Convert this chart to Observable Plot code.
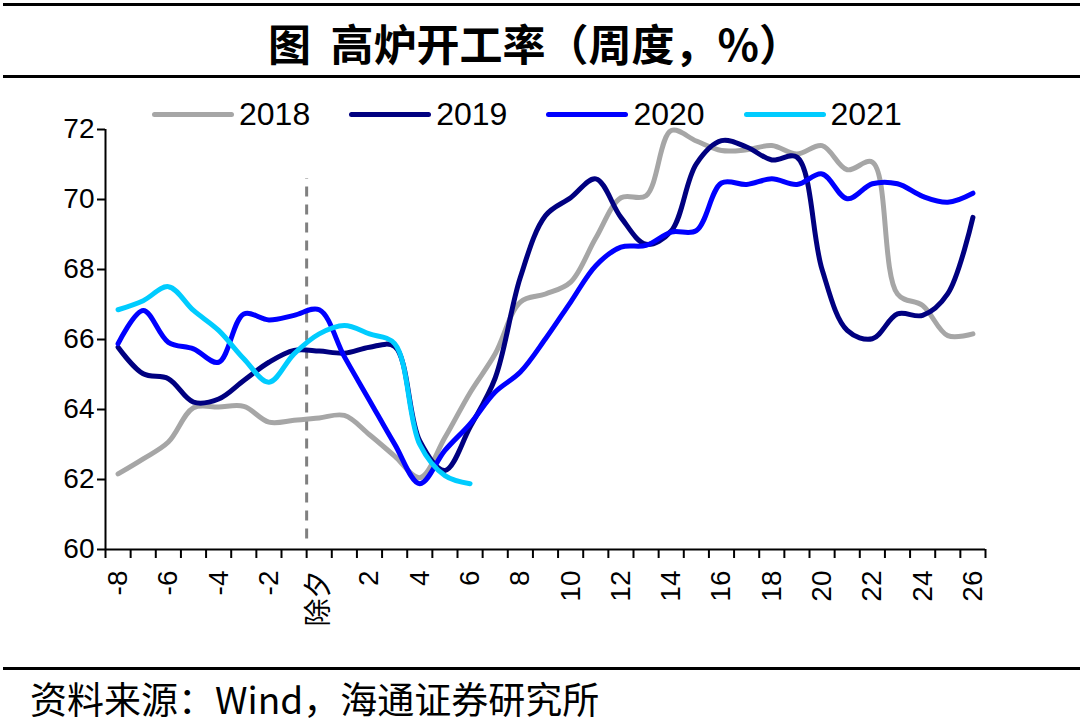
<!DOCTYPE html>
<html>
<head>
<meta charset="utf-8">
<script src="https://cdn.jsdelivr.net/npm/d3@7"></script>
<script src="https://cdn.jsdelivr.net/npm/@observablehq/plot@0.6"></script>
<style>
  html, body { margin: 0; padding: 0; background: #fff; }
  #wrap { position: relative; width: 1080px; height: 727px; overflow: hidden; background: #fff;
          font-family: "Liberation Sans", "Noto Sans CJK SC", sans-serif; color: #000; }
  .rule { position: absolute; left: 3px; right: 0; height: 3px; background: #000; }
  #title { position: absolute; top: 15px; left: 0; width: 1070px; text-align: center;
           font-family: "Noto Sans CJK SC", sans-serif; font-weight: 700; font-size: 43px; line-height: 54px; white-space: pre; }
  #caption { position: absolute; top: 676px; left: 30px; font-family: "Noto Sans CJK SC", "Liberation Sans", sans-serif;
             font-size: 37px; line-height: 44px; white-space: nowrap; }
  #chart { position: absolute; top: 85px; left: 0; }
  #legend { position: absolute; top: 94px; left: 152px; height: 40px; display: flex; align-items: center; }
  .item { display: flex; align-items: center; margin-right: 39px; }
  .swatch { width: 82px; height: 5px; border-radius: 3px; margin-right: 5px; }
  .label { font-family: "Liberation Sans", sans-serif; font-size: 32px; line-height: 40px; }
</style>
</head>
<body>
<div id="wrap">
  <div class="rule" style="top:3px"></div>
  <div id="title"></div>
  <div class="rule" style="top:75px"></div>
  <div id="chart"></div>
  <div id="legend"></div>
  <div class="rule" style="top:667px"></div>
  <div id="caption"></div>
</div>
<script>
// ---- data ----
const titleText = "图  高炉开工率（周度，%）";
const captionText = "资料来源：Wind，海通证券研究所";
const eveLabel = "除夕";

const weeks = [-8,-7,-6,-5,-4,-3,-2,-1,0,1,2,3,4,5,6,7,8,9,10,11,12,13,14,15,16,17,18,19,20,21,22,23,24,25,26];

const years = ["2018", "2019", "2020", "2021"];
const colors = ["#A6A6A6", "#000080", "#0000FF", "#00CCFF"];

const s2018 = [62.16,62.59,63.07,64.05,64.07,64.09,63.64,63.69,63.76,63.83,63.28,62.67,62.05,63.2,64.48,65.59,67.07,67.3,67.64,68.9,70.05,70.11,71.97,71.67,71.4,71.42,71.54,71.3,71.54,70.85,71.07,67.3,66.97,66.11,66.16];
const s2019 = [65.78,65.02,64.88,64.21,64.3,64.83,65.35,65.69,65.67,65.61,65.78,65.8,63.1,62.26,63.5,64.9,67.78,69.54,70.05,70.59,69.49,68.72,69.1,71.02,71.68,71.5,71.13,71.21,68.0,66.26,66.02,66.73,66.69,67.31,69.49];
const s2020 = [65.88,66.83,65.92,65.73,65.35,66.73,66.56,66.69,66.85,65.51,64.26,63.01,61.88,62.83,63.59,64.5,65.07,66.02,67.07,68.11,68.64,68.69,69.07,69.11,70.47,70.43,70.59,70.43,70.73,70.02,70.45,70.45,70.09,69.92,70.18];
const s2021 = [66.85,67.11,67.51,66.83,66.26,65.45,64.78,65.59,66.16,66.4,66.16,65.88,63.0,62.11,61.88];

const yTicks = [60, 62, 64, 66, 68, 70, 72];
const xLabelWeeks = [-8,-6,-4,-2,0,2,4,6,8,10,12,14,16,18,20,22,24,26];
// Lunar New Year's Eve marker: between week -1 and week 0
const eveMarker = [{week: -0.5, from: 60.3, to: 70.6}];

// ---- build ----
const seriesValues = [s2018, s2019, s2020, s2021];
const tables = seriesValues.map((vals, i) => vals.map((v, j) => ({week: weeks[j], value: v, year: years[i]})));
const boundaries = [weeks[0] - 0.5, ...weeks.map(w => w + 0.5)];
const xDomain = [boundaries[0], boundaries[boundaries.length - 1]];
const yDomain = [yTicks[0], yTicks[yTicks.length - 1]];

document.getElementById("title").textContent = titleText;
document.getElementById("caption").textContent = captionText;

const legend = document.getElementById("legend");
years.forEach((y, i) => {
  const item = document.createElement("div");
  item.className = "item";
  const sw = document.createElement("span");
  sw.className = "swatch";
  sw.style.background = colors[i];
  const lb = document.createElement("span");
  lb.className = "label";
  lb.textContent = y;
  item.appendChild(sw);
  item.appendChild(lb);
  legend.appendChild(item);
});

const chart = Plot.plot({
  width: 1080,
  height: 565,
  marginLeft: 105,
  marginRight: 95,
  marginTop: 44,
  marginBottom: 101,
  x: {domain: xDomain},
  y: {domain: yDomain},
  style: {fontFamily: "'Liberation Sans', 'Noto Sans CJK SC', sans-serif", fontSize: "28px", color: "#000", background: "transparent", overflow: "visible"},
  marks: [
    Plot.ruleX(eveMarker, {x: "week", y1: "from", y2: "to", stroke: "#808080", strokeWidth: 3, strokeDasharray: "10,8"}),
    ...tables.map((t, i) => Plot.line(t, {x: "week", y: "value", stroke: colors[i], strokeWidth: 5, curve: "catmull-rom", strokeLinecap: "round", strokeLinejoin: "round"})),
    Plot.ruleX([xDomain[0]], {y1: yDomain[0], y2: yDomain[1], stroke: "#000", strokeWidth: 2}),
    Plot.ruleY([yDomain[0]], {stroke: "#000", strokeWidth: 2}),
    Plot.axisY({ticks: yTicks, tickSize: 8, tickPadding: 3, strokeWidth: 2, fontSize: 28, tickFormat: d => String(d)}),
    Plot.axisX({ticks: boundaries, tickSize: 9, strokeWidth: 2, tickFormat: () => "", label: null}),
    Plot.axisX({ticks: xLabelWeeks, tickSize: 0, tickPadding: 21, tickRotate: -90, fontSize: 28, label: null,
                tickFormat: d => d === 0 ? eveLabel : String(d)})
  ]
});
document.getElementById("chart").appendChild(chart);
</script>
</body>
</html>
